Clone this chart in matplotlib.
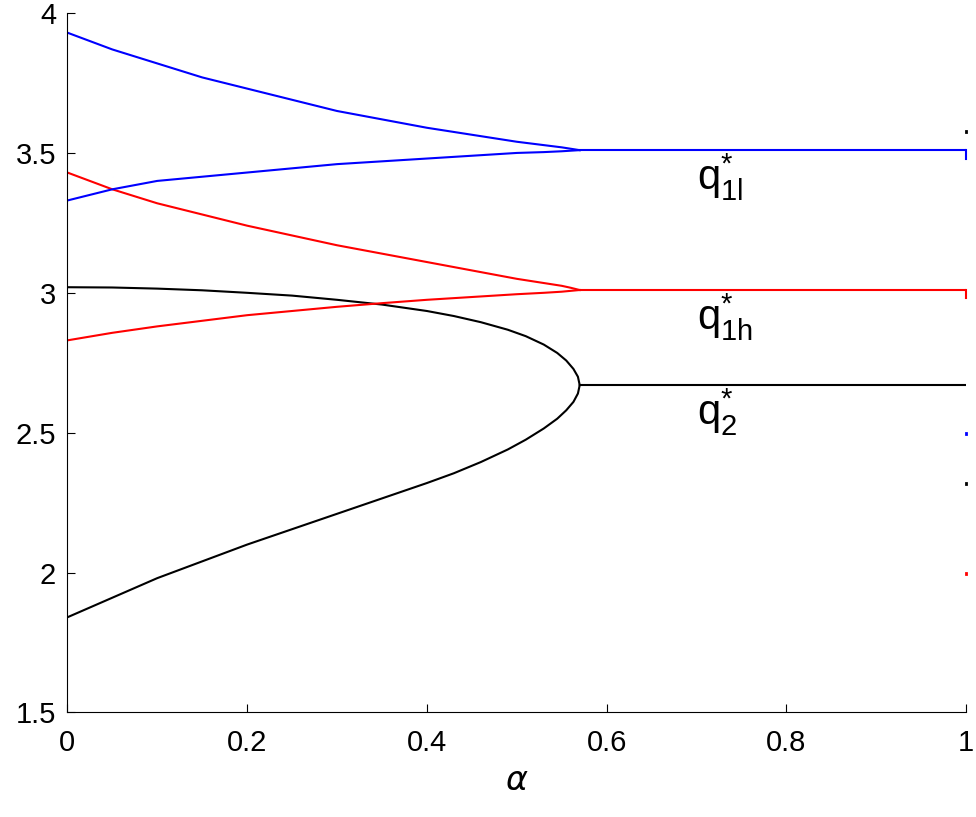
import matplotlib.pyplot as plt

# branch points
alpha_up = [0, 0.05, 0.1, 0.15, 0.2, 0.25, 0.3, 0.35, 0.4, 0.43, 0.46, 0.49,
            0.51, 0.53, 0.545, 0.555, 0.563, 0.568, 0.57]
black_hi = [3.02, 3.019, 3.015, 3.009, 3.0, 2.99, 2.975, 2.958, 2.935, 2.917,
            2.895, 2.868, 2.845, 2.815, 2.785, 2.758, 2.728, 2.70, 2.67]
black_lo = [1.84, 1.91, 1.98, 2.04, 2.10, 2.155, 2.21, 2.265, 2.32, 2.355, 2.395,
            2.44, 2.475, 2.515, 2.55, 2.58, 2.61, 2.64, 2.67]

alpha_rb = [0, 0.05, 0.1, 0.15, 0.2, 0.25, 0.3, 0.35, 0.4, 0.45, 0.5, 0.53,
            0.55, 0.56, 0.57]
red_hi = [3.43, 3.37, 3.32, 3.28, 3.24, 3.205, 3.17, 3.14, 3.11, 3.08, 3.05,
          3.035, 3.025, 3.018, 3.01]
red_lo = [2.83, 2.857, 2.88, 2.90, 2.92, 2.935, 2.95, 2.963, 2.975, 2.985,
          2.995, 3.0, 3.004, 3.007, 3.01]
blue_hi = [3.93, 3.87, 3.82, 3.77, 3.73, 3.69, 3.65, 3.62, 3.59, 3.565, 3.54,
           3.528, 3.52, 3.515, 3.51]
blue_lo = [3.33, 3.37, 3.40, 3.415, 3.43, 3.445, 3.46, 3.47, 3.48, 3.49, 3.50,
           3.503, 3.506, 3.508, 3.51]

alpha_flat = [0.57, 1.0]
q1l, q1h, q2 = 3.51, 3.01, 2.67

# stray end points at alpha = 1
end_pts = [(3.58, "k"), (2.5, "b"), (2.32, "k"), (2.0, "r")]

plt.rcParams['font.family'] = ['Liberation Sans', 'DejaVu Sans']
fig, ax = plt.subplots(figsize=(9.76, 8.17), dpi=100)

ax.plot(alpha_up, black_hi, color="k", lw=1.5)
ax.plot(alpha_up, black_lo, color="k", lw=1.5)
ax.plot(alpha_flat, [q2, q2], color="k", lw=1.5)
ax.plot(alpha_rb, red_hi, color="r", lw=1.5)
ax.plot(alpha_rb, red_lo, color="r", lw=1.5)
ax.plot(alpha_flat, [q1h, q1h], color="r", lw=1.5)
ax.plot(alpha_rb, blue_hi, color="b", lw=1.5)
ax.plot(alpha_rb, blue_lo, color="b", lw=1.5)
ax.plot(alpha_flat, [q1l, q1l], color="b", lw=1.5)
ax.plot([1, 1], [q1l, q1l - 0.03], color="b", lw=1.5, clip_on=False)
ax.plot([1, 1], [q1h, q1h - 0.03], color="r", lw=1.5, clip_on=False)
for y, c in end_pts:
    ax.plot([1, 1], [y, y - 0.005], color=c, lw=2, clip_on=False)

ax.text(0.7, 3.37, r"$\mathregular{q_{1l}^{*}}$", fontsize=30)
ax.text(0.7, 2.87, r"$\mathregular{q_{1h}^{*}}$", fontsize=30)
ax.text(0.7, 2.53, r"$\mathregular{q_{2}^{*}}$", fontsize=30)

ax.set_xlim(0, 1)
ax.set_ylim(1.5, 4)
ax.set_xticks([0, 0.2, 0.4, 0.6, 0.8, 1])
ax.set_xticklabels(["0", "0.2", "0.4", "0.6", "0.8", "1"])
ax.set_yticks([1.5, 2, 2.5, 3, 3.5, 4])
ax.set_yticklabels(["1.5", "2", "2.5", "3", "3.5", "4"])
ax.tick_params(direction="in", labelsize=21, length=6)
ax.tick_params(axis="x", pad=12)
ax.tick_params(axis="y", pad=8)
ax.spines["top"].set_visible(False)
ax.spines["right"].set_visible(False)
ax.set_xlabel(r"$\alpha$", fontsize=24, family="DejaVu Serif", labelpad=6)
fig.subplots_adjust(left=0.069, right=0.99, top=0.984, bottom=0.128)
fig.savefig("out.png", dpi=100)
